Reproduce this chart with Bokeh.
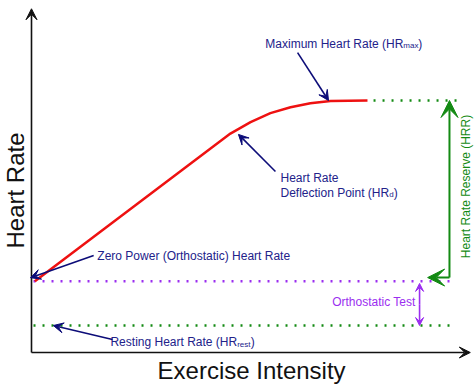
from bokeh.plotting import figure
from bokeh.models import Range1d, Arrow, VeeHead
from bokeh.core.properties import value
from bokeh.embed import file_html
from bokeh.resources import INLINE
import math

# ---- data (conceptual units: intensity %, heart rate bpm) ----
intensity = [1.0, 59.2, 65.2, 71.1, 77.1, 83.0, 89.0, 100.0]
heart_rate = [85.5, 170.9, 177.5, 182.7, 186.1, 188.4, 189.7, 190.0]
hr_rest = 60.0
hr_zero = 85.5
hr_max = 190.0
hr_deflect_x = 61.6
hr_deflect_y = 170.4
axis_origin = [0.0, 44.4]

FONT = value("Liberation Sans")
NAVY_T = "#22228a"
NAVY = "#0c0c78"
RED = "#ee1111"
GREEN = "#138a13"
PURPLE = "#9b2ef0"

p = figure(width=474, height=387, x_range=Range1d(-9.226, 131.85),
           y_range=Range1d(24.18, 247.78), output_backend="svg",
           toolbar_location=None, min_border=0,
           x_axis_location=None, y_axis_location=None)
p.grid.visible = False
p.outline_line_color = None
p.background_fill_color = "white"

# dotted reference lines
p.line([101.8, 127.1], [hr_max, hr_max], line_color=GREEN, line_width=2.5, line_dash="2 7")
p.line([0.6, 126.2], [hr_zero, hr_zero], line_color=PURPLE, line_width=2.5, line_dash="2 7")
p.line([0.6, 126.2], [hr_rest, hr_rest], line_color=GREEN, line_width=2.5, line_dash="2 7")

# heart-rate curve
p.line(intensity, heart_rate, line_color=RED, line_width=2.5)

def arrow(x0, y0, x1, y1, color, width, size):
    p.add_layout(Arrow(end=VeeHead(size=size, fill_color=color, line_color=color),
                       x_start=x0, y_start=y0, x_end=x1, y_end=y1,
                       line_color=color, line_width=width))

# axes
arrow(axis_origin[0], axis_origin[1], axis_origin[0], 243.0, "#111111", 1.6, 11)
arrow(axis_origin[0], axis_origin[1], 130.6, axis_origin[1], "#111111", 1.6, 11)

# HRR L-arrow
arrow(124.4, 87.7, 124.4, hr_max, GREEN, 2, 17)
arrow(124.4, 87.7, 117.9, 87.7, GREEN, 2, 17)

# orthostatic test double arrow
arrow(115.5, 72, 115.5, 84.3, PURPLE, 1.6, 8)
arrow(115.5, 72, 115.5, hr_rest, PURPLE, 1.6, 8)

# navy pointer arrows
arrow(79.2, 217.7, 88.4, hr_max, NAVY, 1.6, 10)
arrow(72.6, 149.0, hr_deflect_x, hr_deflect_y, NAVY, 1.6, 10)
arrow(18.5, 100.4, -0.3, 87.6, NAVY, 1.6, 10)
arrow(24.1, 51.9, 6.5, hr_rest, NAVY, 1.6, 10)

def txt(x, y, s, color, size, xo=0, yo=0, align="left", baseline="middle", angle=0):
    p.text(x=[x], y=[y], text=[s], text_font=FONT, text_font_size=size,
           text_color=color, text_align=align, text_baseline=baseline,
           x_offset=xo, y_offset=yo, angle=angle)

# annotations
txt(69.6, 222.9, "Maximum Heart Rate (HR", NAVY_T, "12px")
txt(69.6, 222.9, "max", NAVY_T, "8px", xo=138, yo=2)
txt(69.6, 222.9, ")", NAVY_T, "12px", xo=153)

txt(74.1, 145.5, "Heart Rate", NAVY_T, "12px")
txt(74.1, 136.8, "Deflection Point (HR", NAVY_T, "12px")
txt(74.1, 136.8, "d", NAVY_T, "8px", xo=108.7, yo=2)
txt(74.1, 136.8, ")", NAVY_T, "12px", xo=113.4)

txt(19.6, 99.9, "Zero Power (Orthostatic) Heart Rate", NAVY_T, "12px")

txt(23.5, 50.2, "Resting Heart Rate (HR", NAVY_T, "12px")
txt(23.5, 50.2, "rest", NAVY_T, "8px", xo=126.7, yo=2)
txt(23.5, 50.2, ")", NAVY_T, "12px", xo=140.3)

txt(114.3, 73.3, "Orthostatic Test", PURPLE, "12px", align="right")

txt(129.2, 140.3, "Heart Rate Reserve (HRR)", GREEN, "12px", align="center",
    angle=math.pi / 2)

# axis titles
txt(-4.8, 138.0, "Heart Rate", "#111111", "24px", align="center",
    angle=math.pi / 2)
txt(65.5, 34.0, "Exercise Intensity", "#111111", "24px", align="center")

open("out.html", "w").write(file_html(p, INLINE))
